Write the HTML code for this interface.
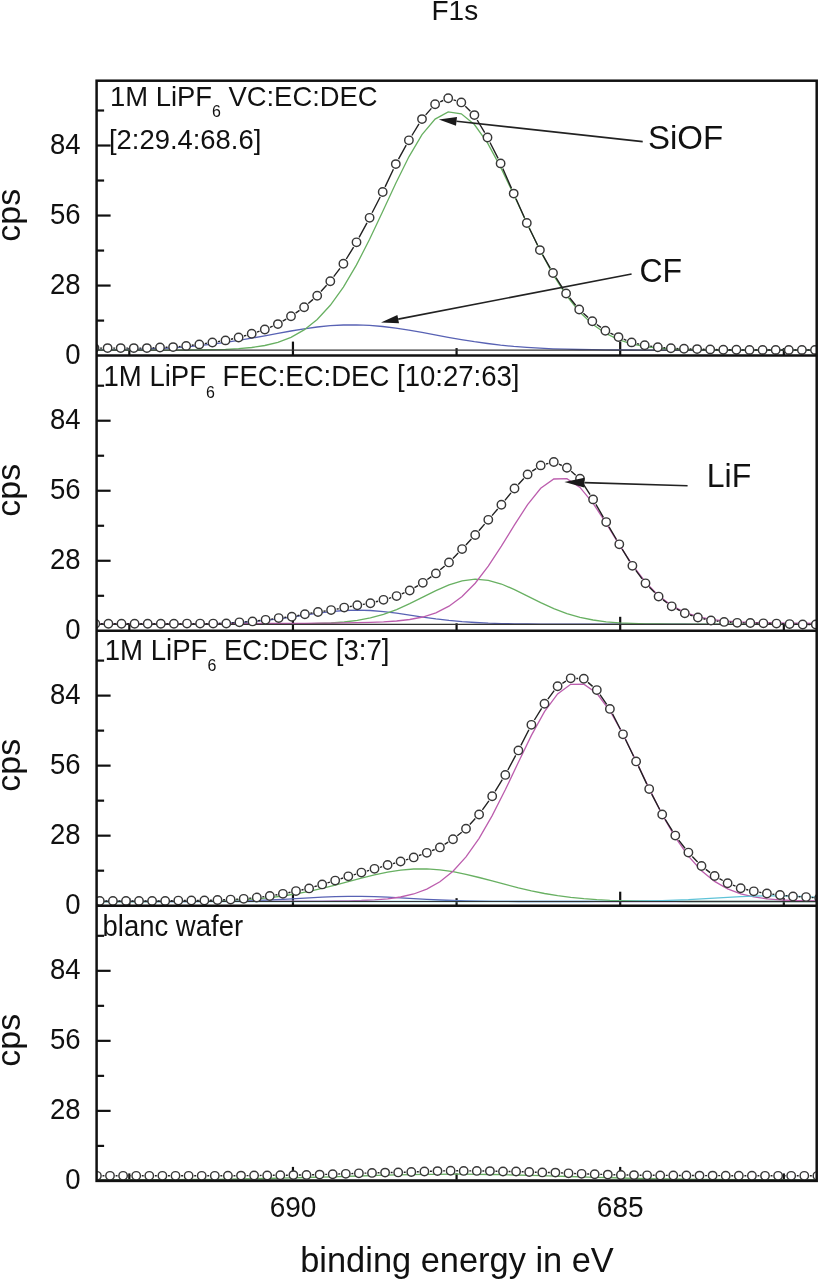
<!DOCTYPE html>
<html><head><meta charset="utf-8"><style>
html,body{margin:0;padding:0;background:#fff;overflow:hidden;}
svg{display:block;}
.t{font-family:"Liberation Sans",Arial,sans-serif;fill:#111;}
.k{stroke:#111;stroke-width:2.2;}
.f{stroke:#111;stroke-width:2.5;}
circle{fill:#fff;stroke:#383838;stroke-width:1.45;}
</style></head><body>
<svg width="819" height="1280" viewBox="0 0 819 1280">
<defs>
<clipPath id="c0"><rect x="96.6" y="80.7" width="720.1" height="274.9"/></clipPath>
<clipPath id="c1"><rect x="96.6" y="355.6" width="720.1" height="275.2"/></clipPath>
<clipPath id="c2"><rect x="96.6" y="630.8" width="720.1" height="274.9"/></clipPath>
<clipPath id="c3"><rect x="96.6" y="905.7" width="720.1" height="275.2"/></clipPath>
</defs>
<rect width="819" height="1280" fill="#fff"/>
<text transform="translate(454.8,20.0) scale(1,1.02)" font-size="28" text-anchor="middle" class="t">F1s</text>
<line x1="96.6" y1="320.59" x2="104.1" y2="320.59" class="k"/>
<line x1="96.6" y1="285.57" x2="110.6" y2="285.57" class="k"/>
<line x1="96.6" y1="250.56" x2="104.1" y2="250.56" class="k"/>
<line x1="96.6" y1="215.54" x2="110.6" y2="215.54" class="k"/>
<line x1="96.6" y1="180.53" x2="104.1" y2="180.53" class="k"/>
<line x1="96.6" y1="145.52" x2="110.6" y2="145.52" class="k"/>
<line x1="96.6" y1="110.50" x2="104.1" y2="110.50" class="k"/>
<text transform="translate(80.5,363.6) scale(1,1.05)" font-size="27.5" text-anchor="end" class="t">0</text>
<text transform="translate(80.5,293.6) scale(1,1.05)" font-size="27.5" text-anchor="end" class="t">28</text>
<text transform="translate(80.5,223.5) scale(1,1.05)" font-size="27.5" text-anchor="end" class="t">56</text>
<text transform="translate(80.5,153.5) scale(1,1.05)" font-size="27.5" text-anchor="end" class="t">84</text>
<line x1="129.32" y1="355.6" x2="129.32" y2="348.1" class="k"/>
<line x1="292.95" y1="355.6" x2="292.95" y2="341.6" class="k"/>
<line x1="456.58" y1="355.6" x2="456.58" y2="348.1" class="k"/>
<line x1="620.20" y1="355.6" x2="620.20" y2="341.6" class="k"/>
<line x1="783.83" y1="355.6" x2="783.83" y2="348.1" class="k"/>
<text transform="translate(20,215.2) rotate(-90)" font-size="34" text-anchor="middle" class="t">cps</text>
<line x1="96.6" y1="595.79" x2="104.1" y2="595.79" class="k"/>
<line x1="96.6" y1="560.77" x2="110.6" y2="560.77" class="k"/>
<line x1="96.6" y1="525.76" x2="104.1" y2="525.76" class="k"/>
<line x1="96.6" y1="490.74" x2="110.6" y2="490.74" class="k"/>
<line x1="96.6" y1="455.73" x2="104.1" y2="455.73" class="k"/>
<line x1="96.6" y1="420.72" x2="110.6" y2="420.72" class="k"/>
<line x1="96.6" y1="385.70" x2="104.1" y2="385.70" class="k"/>
<text transform="translate(80.5,638.8) scale(1,1.05)" font-size="27.5" text-anchor="end" class="t">0</text>
<text transform="translate(80.5,568.8) scale(1,1.05)" font-size="27.5" text-anchor="end" class="t">28</text>
<text transform="translate(80.5,498.7) scale(1,1.05)" font-size="27.5" text-anchor="end" class="t">56</text>
<text transform="translate(80.5,428.7) scale(1,1.05)" font-size="27.5" text-anchor="end" class="t">84</text>
<line x1="129.32" y1="630.8" x2="129.32" y2="623.3" class="k"/>
<line x1="292.95" y1="630.8" x2="292.95" y2="616.8" class="k"/>
<line x1="456.58" y1="630.8" x2="456.58" y2="623.3" class="k"/>
<line x1="620.20" y1="630.8" x2="620.20" y2="616.8" class="k"/>
<line x1="783.83" y1="630.8" x2="783.83" y2="623.3" class="k"/>
<text transform="translate(20,490.2) rotate(-90)" font-size="34" text-anchor="middle" class="t">cps</text>
<line x1="96.6" y1="870.69" x2="104.1" y2="870.69" class="k"/>
<line x1="96.6" y1="835.67" x2="110.6" y2="835.67" class="k"/>
<line x1="96.6" y1="800.66" x2="104.1" y2="800.66" class="k"/>
<line x1="96.6" y1="765.64" x2="110.6" y2="765.64" class="k"/>
<line x1="96.6" y1="730.63" x2="104.1" y2="730.63" class="k"/>
<line x1="96.6" y1="695.62" x2="110.6" y2="695.62" class="k"/>
<line x1="96.6" y1="660.60" x2="104.1" y2="660.60" class="k"/>
<text transform="translate(80.5,913.7) scale(1,1.05)" font-size="27.5" text-anchor="end" class="t">0</text>
<text transform="translate(80.5,843.7) scale(1,1.05)" font-size="27.5" text-anchor="end" class="t">28</text>
<text transform="translate(80.5,773.6) scale(1,1.05)" font-size="27.5" text-anchor="end" class="t">56</text>
<text transform="translate(80.5,703.6) scale(1,1.05)" font-size="27.5" text-anchor="end" class="t">84</text>
<line x1="129.32" y1="905.7" x2="129.32" y2="898.2" class="k"/>
<line x1="292.95" y1="905.7" x2="292.95" y2="891.7" class="k"/>
<line x1="456.58" y1="905.7" x2="456.58" y2="898.2" class="k"/>
<line x1="620.20" y1="905.7" x2="620.20" y2="891.7" class="k"/>
<line x1="783.83" y1="905.7" x2="783.83" y2="898.2" class="k"/>
<text transform="translate(20,765.2) rotate(-90)" font-size="34" text-anchor="middle" class="t">cps</text>
<line x1="96.6" y1="1145.89" x2="104.1" y2="1145.89" class="k"/>
<line x1="96.6" y1="1110.87" x2="110.6" y2="1110.87" class="k"/>
<line x1="96.6" y1="1075.86" x2="104.1" y2="1075.86" class="k"/>
<line x1="96.6" y1="1040.84" x2="110.6" y2="1040.84" class="k"/>
<line x1="96.6" y1="1005.83" x2="104.1" y2="1005.83" class="k"/>
<line x1="96.6" y1="970.82" x2="110.6" y2="970.82" class="k"/>
<line x1="96.6" y1="935.80" x2="104.1" y2="935.80" class="k"/>
<text transform="translate(80.5,1188.9) scale(1,1.05)" font-size="27.5" text-anchor="end" class="t">0</text>
<text transform="translate(80.5,1118.9) scale(1,1.05)" font-size="27.5" text-anchor="end" class="t">28</text>
<text transform="translate(80.5,1048.8) scale(1,1.05)" font-size="27.5" text-anchor="end" class="t">56</text>
<text transform="translate(80.5,978.8) scale(1,1.05)" font-size="27.5" text-anchor="end" class="t">84</text>
<line x1="129.32" y1="1180.9" x2="129.32" y2="1173.4" class="k"/>
<line x1="292.95" y1="1180.9" x2="292.95" y2="1166.9" class="k"/>
<line x1="456.58" y1="1180.9" x2="456.58" y2="1173.4" class="k"/>
<line x1="620.20" y1="1180.9" x2="620.20" y2="1166.9" class="k"/>
<line x1="783.83" y1="1180.9" x2="783.83" y2="1173.4" class="k"/>
<text transform="translate(20,1040.3) rotate(-90)" font-size="34" text-anchor="middle" class="t">cps</text>
<g clip-path="url(#c0)">
<path d="M81.4,350.0 L94.5,349.9 L107.6,349.8 L120.7,349.6 L133.8,349.4 L146.9,349.0 L160.0,348.5 L173.1,347.8 L186.2,346.8 L199.3,345.6 L212.4,344.2 L225.5,342.4 L238.6,340.4 L251.7,338.2 L264.8,335.8 L277.9,333.3 L291.0,331.0 L304.1,328.8 L317.2,327.0 L330.3,325.7 L343.4,325.0 L356.5,324.8 L369.6,325.3 L382.7,326.5 L395.8,328.1 L408.9,330.1 L422.0,332.4 L435.1,334.8 L448.2,337.3 L461.3,339.6 L474.4,341.7 L487.5,343.5 L500.6,345.1 L513.7,346.4 L526.8,347.4 L539.9,348.2 L553.0,348.8 L566.1,349.2 L579.2,349.5 L592.3,349.7 L605.4,349.9 L618.5,350.0 L631.6,350.0 L644.7,350.1 L657.8,350.1 L670.9,350.1 L684.0,350.1 L697.1,350.1 L710.2,350.1 L723.3,350.1 L736.4,350.1 L749.5,350.1 L762.6,350.1 L775.7,350.1 L788.8,350.1 L801.9,350.1 L815.0,350.1 L828.1,350.1 L841.2,350.1 L854.3,350.1" fill="none" stroke="#5862b4" stroke-width="1.3"/>
<path d="M81.4,350.1 L94.5,350.1 L107.6,350.1 L120.7,350.1 L133.8,350.1 L146.9,350.1 L160.0,350.1 L173.1,350.1 L186.2,350.0 L199.3,349.9 L212.4,349.7 L225.5,349.4 L238.6,348.7 L251.7,347.5 L264.8,345.5 L277.9,342.3 L291.0,337.3 L304.1,329.9 L317.2,319.4 L330.3,305.3 L343.4,287.1 L356.5,264.9 L369.6,239.3 L382.7,211.5 L395.8,183.2 L408.9,156.8 L422.0,134.7 L435.1,119.1 L448.2,111.9 L461.3,113.8 L474.4,124.5 L487.5,142.9 L500.6,167.1 L513.7,194.5 L526.8,222.9 L539.9,250.0 L553.0,274.4 L566.1,295.0 L579.2,311.5 L592.3,324.1 L605.4,333.2 L618.5,339.6 L631.6,343.8 L644.7,346.5 L657.8,348.1 L670.9,349.0 L684.0,349.5 L697.1,349.8 L710.2,350.0 L723.3,350.0 L736.4,350.1 L749.5,350.1 L762.6,350.1 L775.7,350.1 L788.8,350.1 L801.9,350.1 L815.0,350.1 L828.1,350.1 L841.2,350.1 L854.3,350.1" fill="none" stroke="#68b062" stroke-width="1.3"/>
<line x1="96.6" y1="350.1" x2="816.7" y2="350.1" stroke="#333" stroke-width="1.2"/>
<path d="M100.1,348.1L102.0,348.1M113.2,348.1L115.1,348.1M126.3,348.1L128.2,348.1M139.4,348.1L141.3,348.1M152.5,347.9L154.4,347.8M165.6,347.3L167.5,347.3M178.7,346.6L180.6,346.4M191.8,345.3L193.7,345.0M204.8,343.6L206.9,343.3M217.9,341.6L220.0,341.3M231.0,339.2L233.1,338.7M244.0,336.0L246.3,335.3M257.0,332.1L259.5,331.2M270.0,327.3L272.7,326.2M282.7,321.2L286.2,319.1M295.6,313.1L299.5,310.4M308.3,303.5L313.0,299.4M320.9,291.5L326.6,285.3M333.7,276.7L340.0,268.3M346.3,259.0L353.6,247.1M359.1,237.4L367.0,222.8M372.1,212.8L380.2,197.0M385.1,186.9L393.4,169.2M398.5,159.2L406.2,145.2M411.9,135.5L419.0,123.9M425.7,114.9L431.4,108.4M440.2,101.9L443.1,100.5M453.5,99.9L456.0,100.7M465.3,106.3L470.4,111.2M477.2,120.0L484.7,132.7M490.0,142.5L498.1,158.4M502.8,168.5L511.5,188.4M516.0,198.7L524.5,217.8M529.2,228.0L537.5,245.0M542.7,254.9L550.2,268.1M556.0,277.7L563.1,288.8M569.6,297.8L575.7,305.2M583.4,313.2L588.1,317.5M596.8,324.5L600.9,327.4M610.4,333.2L613.5,334.6M623.7,339.2L626.4,340.3M637.1,343.6L639.2,344.1M650.2,346.1L652.3,346.4M663.4,347.7L665.3,347.8M676.5,348.5L678.4,348.6M689.6,348.9L691.5,349.0M702.7,349.3L704.6,349.3M715.8,349.5L717.7,349.6M728.9,349.8L730.8,349.8M742.0,349.9L743.9,349.9M755.1,349.9L757.0,349.9M768.2,349.9L770.1,349.9M781.3,349.9L783.2,349.9M794.4,349.9L796.3,349.9M807.5,349.9L809.4,349.9" fill="none" stroke="#222" stroke-width="1.4"/>
<circle cx="94.5" cy="348.1" r="4.2"/>
<circle cx="107.6" cy="348.1" r="4.2"/>
<circle cx="120.7" cy="348.1" r="4.2"/>
<circle cx="133.8" cy="348.1" r="4.2"/>
<circle cx="146.9" cy="348.1" r="4.2"/>
<circle cx="160.0" cy="347.5" r="4.2"/>
<circle cx="173.1" cy="347.1" r="4.2"/>
<circle cx="186.2" cy="345.9" r="4.2"/>
<circle cx="199.3" cy="344.4" r="4.2"/>
<circle cx="212.4" cy="342.5" r="4.2"/>
<circle cx="225.5" cy="340.4" r="4.2"/>
<circle cx="238.6" cy="337.5" r="4.2"/>
<circle cx="251.7" cy="333.8" r="4.2"/>
<circle cx="264.8" cy="329.5" r="4.2"/>
<circle cx="277.9" cy="324.1" r="4.2"/>
<circle cx="291.0" cy="316.3" r="4.2"/>
<circle cx="304.1" cy="307.2" r="4.2"/>
<circle cx="317.2" cy="295.7" r="4.2"/>
<circle cx="330.3" cy="281.2" r="4.2"/>
<circle cx="343.4" cy="263.8" r="4.2"/>
<circle cx="356.5" cy="242.3" r="4.2"/>
<circle cx="369.6" cy="217.8" r="4.2"/>
<circle cx="382.7" cy="192.0" r="4.2"/>
<circle cx="395.8" cy="164.1" r="4.2"/>
<circle cx="408.9" cy="140.3" r="4.2"/>
<circle cx="422.0" cy="119.1" r="4.2"/>
<circle cx="435.1" cy="104.2" r="4.2"/>
<circle cx="448.2" cy="98.2" r="4.2"/>
<circle cx="461.3" cy="102.4" r="4.2"/>
<circle cx="474.4" cy="115.1" r="4.2"/>
<circle cx="487.5" cy="137.5" r="4.2"/>
<circle cx="500.6" cy="163.4" r="4.2"/>
<circle cx="513.7" cy="193.6" r="4.2"/>
<circle cx="526.8" cy="223.0" r="4.2"/>
<circle cx="539.9" cy="250.1" r="4.2"/>
<circle cx="553.0" cy="273.0" r="4.2"/>
<circle cx="566.1" cy="293.5" r="4.2"/>
<circle cx="579.2" cy="309.5" r="4.2"/>
<circle cx="592.3" cy="321.2" r="4.2"/>
<circle cx="605.4" cy="330.7" r="4.2"/>
<circle cx="618.5" cy="337.1" r="4.2"/>
<circle cx="631.6" cy="342.4" r="4.2"/>
<circle cx="644.7" cy="345.3" r="4.2"/>
<circle cx="657.8" cy="347.2" r="4.2"/>
<circle cx="670.9" cy="348.2" r="4.2"/>
<circle cx="684.0" cy="348.8" r="4.2"/>
<circle cx="697.1" cy="349.1" r="4.2"/>
<circle cx="710.2" cy="349.4" r="4.2"/>
<circle cx="723.3" cy="349.7" r="4.2"/>
<circle cx="736.4" cy="349.8" r="4.2"/>
<circle cx="749.5" cy="349.9" r="4.2"/>
<circle cx="762.6" cy="349.9" r="4.2"/>
<circle cx="775.7" cy="349.9" r="4.2"/>
<circle cx="788.8" cy="349.9" r="4.2"/>
<circle cx="801.9" cy="349.9" r="4.2"/>
<circle cx="815.0" cy="349.9" r="4.2"/>
</g>
<g clip-path="url(#c1)">
<path d="M82.2,624.2 L95.3,624.2 L108.4,624.2 L121.5,624.2 L134.6,624.2 L147.7,624.2 L160.8,624.1 L173.9,624.1 L187.0,624.0 L200.1,623.8 L213.2,623.6 L226.3,623.2 L239.4,622.5 L252.5,621.6 L265.6,620.4 L278.7,618.9 L291.8,617.1 L304.9,615.1 L318.0,613.2 L331.1,611.6 L344.2,610.5 L357.3,610.1 L370.4,610.5 L383.5,611.6 L396.6,613.2 L409.7,615.1 L422.8,617.1 L435.9,618.9 L449.0,620.4 L462.1,621.6 L475.2,622.5 L488.3,623.2 L501.4,623.6 L514.5,623.8 L527.6,624.0 L540.7,624.1 L553.8,624.1 L566.9,624.2 L580.0,624.2 L593.1,624.2 L606.2,624.2 L619.3,624.2 L632.4,624.2 L645.5,624.2 L658.6,624.2 L671.7,624.2 L684.8,624.2 L697.9,624.3 L711.0,624.3 L724.1,624.3 L737.2,624.3 L750.3,624.3 L763.4,624.3 L776.5,624.3 L789.6,624.3 L802.7,624.3 L815.8,624.3 L828.9,624.3 L842.0,624.3 L855.1,624.3" fill="none" stroke="#5862b4" stroke-width="1.3"/>
<path d="M82.2,624.3 L95.3,624.2 L108.4,624.2 L121.5,624.2 L134.6,624.2 L147.7,624.2 L160.8,624.2 L173.9,624.2 L187.0,624.2 L200.1,624.2 L213.2,624.2 L226.3,624.2 L239.4,624.2 L252.5,624.1 L265.6,624.1 L278.7,624.1 L291.8,624.0 L304.9,623.8 L318.0,623.5 L331.1,623.0 L344.2,622.0 L357.3,620.4 L370.4,617.9 L383.5,614.3 L396.6,609.6 L409.7,603.7 L422.8,597.2 L435.9,590.6 L449.0,584.9 L462.1,580.8 L475.2,579.2 L488.3,580.4 L501.4,584.0 L514.5,589.6 L527.6,596.1 L540.7,602.7 L553.8,608.7 L566.9,613.6 L580.0,617.4 L593.1,620.0 L606.2,621.8 L619.3,622.8 L632.4,623.4 L645.5,623.8 L658.6,624.0 L671.7,624.1 L684.8,624.1 L697.9,624.1 L711.0,624.2 L724.1,624.2 L737.2,624.2 L750.3,624.2 L763.4,624.2 L776.5,624.2 L789.6,624.2 L802.7,624.2 L815.8,624.2 L828.9,624.2 L842.0,624.2 L855.1,624.2" fill="none" stroke="#68b062" stroke-width="1.3"/>
<path d="M82.2,624.0 L95.3,624.0 L108.4,624.0 L121.5,624.0 L134.6,623.9 L147.7,623.9 L160.8,623.9 L173.9,623.9 L187.0,623.8 L200.1,623.8 L213.2,623.8 L226.3,623.7 L239.4,623.7 L252.5,623.6 L265.6,623.5 L278.7,623.5 L291.8,623.4 L304.9,623.3 L318.0,623.2 L331.1,623.1 L344.2,622.9 L357.3,622.7 L370.4,622.4 L383.5,621.9 L396.6,621.0 L409.7,619.5 L422.8,617.0 L435.9,612.8 L449.0,606.2 L462.1,596.5 L475.2,583.2 L488.3,566.2 L501.4,546.2 L514.5,524.9 L527.6,504.6 L540.7,488.3 L553.8,479.0 L566.9,478.7 L580.0,487.4 L593.1,503.3 L606.2,523.4 L619.3,544.8 L632.4,564.9 L645.5,582.1 L658.6,595.7 L671.7,605.6 L684.8,612.4 L697.9,616.7 L711.0,619.4 L724.1,620.9 L737.2,621.8 L750.3,622.4 L763.4,622.7 L776.5,622.9 L789.6,623.1 L802.7,623.2 L815.8,623.3 L828.9,623.4 L842.0,623.5 L855.1,623.5" fill="none" stroke="#bc5eae" stroke-width="1.3"/>
<line x1="96.6" y1="624.3" x2="816.7" y2="624.3" stroke="#333" stroke-width="1.2"/>
<path d="M100.9,623.7L102.8,623.7M114.0,623.7L115.9,623.7M127.1,623.7L129.0,623.7M140.2,623.7L142.1,623.7M153.3,623.7L155.2,623.7M166.4,623.7L168.3,623.7M179.5,623.7L181.4,623.6M192.6,623.6L194.5,623.6M205.7,623.6L207.6,623.6M218.8,623.5L220.7,623.5M231.9,623.0L233.8,622.8M245.0,621.9L246.9,621.8M258.1,620.7L260.0,620.5M271.2,619.1L273.1,618.9M284.3,617.5L286.2,617.3M297.3,615.7L299.4,615.3M310.4,613.3L312.5,612.9M323.5,611.2L325.6,610.9M336.6,609.1L338.7,608.7M349.7,606.6L351.8,606.2M362.8,604.4L364.9,604.1M375.8,601.8L378.1,601.2M388.9,598.3L391.2,597.6M401.8,593.9L404.5,592.7M414.5,587.7L418.0,585.6M427.3,579.5L431.4,576.6M440.2,569.8L444.7,566.0M452.9,558.4L458.2,553.1M465.9,545.0L471.4,539.1M478.9,530.8L484.6,524.1M492.0,515.6L497.7,509.0M504.9,500.4L511.0,492.9M518.3,484.4L523.8,478.5M532.2,471.2L536.1,468.6M546.1,464.0L548.4,463.4M558.9,464.2L561.8,465.5M571.2,471.3L575.7,475.2M583.0,483.6L590.1,494.7M595.9,504.3L603.4,517.3M609.0,526.9L616.5,539.5M622.2,549.1L629.5,561.1M635.8,570.3L642.1,578.8M649.4,587.3L654.7,592.6M663.1,599.9L667.2,603.0M676.7,608.9L679.8,610.6M690.1,615.0L692.6,615.8M703.4,618.8L705.5,619.2M716.6,621.1L718.5,621.3M729.7,622.3L731.6,622.4M742.8,622.9L744.7,622.9M755.9,623.1L757.8,623.2M769.0,623.4L770.9,623.5M782.1,623.8L784.0,623.9M795.2,624.3L797.1,624.3M808.3,624.5L810.2,624.5" fill="none" stroke="#222" stroke-width="1.4"/>
<circle cx="95.3" cy="623.7" r="4.2"/>
<circle cx="108.4" cy="623.7" r="4.2"/>
<circle cx="121.5" cy="623.7" r="4.2"/>
<circle cx="134.6" cy="623.7" r="4.2"/>
<circle cx="147.7" cy="623.7" r="4.2"/>
<circle cx="160.8" cy="623.7" r="4.2"/>
<circle cx="173.9" cy="623.7" r="4.2"/>
<circle cx="187.0" cy="623.6" r="4.2"/>
<circle cx="200.1" cy="623.6" r="4.2"/>
<circle cx="213.2" cy="623.6" r="4.2"/>
<circle cx="226.3" cy="623.5" r="4.2"/>
<circle cx="239.4" cy="622.3" r="4.2"/>
<circle cx="252.5" cy="621.4" r="4.2"/>
<circle cx="265.6" cy="619.8" r="4.2"/>
<circle cx="278.7" cy="618.1" r="4.2"/>
<circle cx="291.8" cy="616.7" r="4.2"/>
<circle cx="304.9" cy="614.2" r="4.2"/>
<circle cx="318.0" cy="612.0" r="4.2"/>
<circle cx="331.1" cy="610.1" r="4.2"/>
<circle cx="344.2" cy="607.6" r="4.2"/>
<circle cx="357.3" cy="605.2" r="4.2"/>
<circle cx="370.4" cy="603.2" r="4.2"/>
<circle cx="383.5" cy="599.8" r="4.2"/>
<circle cx="396.6" cy="596.1" r="4.2"/>
<circle cx="409.7" cy="590.5" r="4.2"/>
<circle cx="422.8" cy="582.8" r="4.2"/>
<circle cx="435.9" cy="573.4" r="4.2"/>
<circle cx="449.0" cy="562.4" r="4.2"/>
<circle cx="462.1" cy="549.1" r="4.2"/>
<circle cx="475.2" cy="535.0" r="4.2"/>
<circle cx="488.3" cy="519.8" r="4.2"/>
<circle cx="501.4" cy="504.8" r="4.2"/>
<circle cx="514.5" cy="488.5" r="4.2"/>
<circle cx="527.6" cy="474.4" r="4.2"/>
<circle cx="540.7" cy="465.4" r="4.2"/>
<circle cx="553.8" cy="462.0" r="4.2"/>
<circle cx="566.9" cy="467.7" r="4.2"/>
<circle cx="580.0" cy="478.8" r="4.2"/>
<circle cx="593.1" cy="499.4" r="4.2"/>
<circle cx="606.2" cy="522.1" r="4.2"/>
<circle cx="619.3" cy="544.3" r="4.2"/>
<circle cx="632.4" cy="565.8" r="4.2"/>
<circle cx="645.5" cy="583.3" r="4.2"/>
<circle cx="658.6" cy="596.6" r="4.2"/>
<circle cx="671.7" cy="606.3" r="4.2"/>
<circle cx="684.8" cy="613.2" r="4.2"/>
<circle cx="697.9" cy="617.5" r="4.2"/>
<circle cx="711.0" cy="620.5" r="4.2"/>
<circle cx="724.1" cy="621.9" r="4.2"/>
<circle cx="737.2" cy="622.8" r="4.2"/>
<circle cx="750.3" cy="623.0" r="4.2"/>
<circle cx="763.4" cy="623.3" r="4.2"/>
<circle cx="776.5" cy="623.6" r="4.2"/>
<circle cx="789.6" cy="624.1" r="4.2"/>
<circle cx="802.7" cy="624.5" r="4.2"/>
<circle cx="815.8" cy="624.5" r="4.2"/>
</g>
<g clip-path="url(#c2)">
<path d="M73.6,901.5 L86.7,901.5 L99.8,901.5 L112.9,901.5 L126.0,901.5 L139.0,901.5 L152.1,901.5 L165.2,901.5 L178.3,901.5 L191.4,901.5 L204.4,901.4 L217.5,901.3 L230.6,901.2 L243.7,900.9 L256.8,900.5 L269.8,900.0 L282.9,899.4 L296.0,898.7 L309.1,897.9 L322.2,897.2 L335.2,896.6 L348.3,896.3 L361.4,896.3 L374.5,896.6 L387.6,897.2 L400.6,897.9 L413.7,898.7 L426.8,899.4 L439.9,900.0 L453.0,900.5 L466.0,900.9 L479.1,901.1 L492.2,901.3 L505.3,901.4 L518.4,901.5 L531.4,901.5 L544.5,901.5 L557.6,901.5 L570.7,901.5 L583.8,901.5 L596.8,901.5 L609.9,901.5 L623.0,901.5 L636.1,901.5 L649.2,901.5 L662.2,901.5 L675.3,901.5 L688.4,901.5 L701.5,901.5 L714.6,901.5 L727.6,901.5 L740.7,901.5 L753.8,901.5 L766.9,901.5 L780.0,901.5 L793.0,901.5 L806.1,901.5 L819.2,901.5 L832.3,901.5 L845.4,901.5" fill="none" stroke="#5862b4" stroke-width="1.3"/>
<path d="M73.6,901.5 L86.7,901.5 L99.8,901.5 L112.9,901.5 L126.0,901.5 L139.0,901.5 L152.1,901.5 L165.2,901.4 L178.3,901.4 L191.4,901.3 L204.4,901.1 L217.5,900.8 L230.6,900.4 L243.7,899.7 L256.8,898.8 L269.8,897.6 L282.9,896.0 L296.0,893.9 L309.1,891.3 L322.2,888.4 L335.2,885.1 L348.3,881.6 L361.4,878.1 L374.5,874.8 L387.6,872.1 L400.6,870.1 L413.7,869.0 L426.8,868.9 L439.9,869.8 L453.0,871.7 L466.0,874.3 L479.1,877.5 L492.2,880.9 L505.3,884.4 L518.4,887.8 L531.4,890.8 L544.5,893.5 L557.6,895.6 L570.7,897.3 L583.8,898.6 L596.8,899.6 L609.9,900.3 L623.0,900.7 L636.1,901.0 L649.2,901.2 L662.2,901.3 L675.3,901.4 L688.4,901.5 L701.5,901.5 L714.6,901.5 L727.6,901.5 L740.7,901.5 L753.8,901.5 L766.9,901.5 L780.0,901.5 L793.0,901.5 L806.1,901.5 L819.2,901.5 L832.3,901.5 L845.4,901.5" fill="none" stroke="#68b062" stroke-width="1.3"/>
<path d="M73.6,901.4 L86.7,901.4 L99.8,901.4 L112.9,901.4 L126.0,901.4 L139.0,901.4 L152.1,901.4 L165.2,901.4 L178.3,901.4 L191.4,901.3 L204.4,901.3 L217.5,901.3 L230.6,901.3 L243.7,901.3 L256.8,901.3 L269.8,901.3 L282.9,901.2 L296.0,901.2 L309.1,901.2 L322.2,901.1 L335.2,901.0 L348.3,900.8 L361.4,900.5 L374.5,899.9 L387.6,898.9 L400.6,897.0 L413.7,894.0 L426.8,889.1 L439.9,881.8 L453.0,871.2 L466.0,856.9 L479.1,838.3 L492.2,815.6 L505.3,789.8 L518.4,762.3 L531.4,735.4 L544.5,711.7 L557.6,693.9 L570.7,684.3 L583.8,684.1 L596.8,693.3 L609.9,710.8 L623.0,734.3 L636.1,761.1 L649.2,788.6 L662.2,814.6 L675.3,837.4 L688.4,856.1 L701.5,870.7 L714.6,881.4 L727.6,888.9 L740.7,893.8 L753.8,896.9 L766.9,898.8 L780.0,899.9 L793.0,900.5 L806.1,900.8 L819.2,901.0 L832.3,901.1 L845.4,901.2" fill="none" stroke="#bc5eae" stroke-width="1.3"/>
<path d="M73.6,901.5 L86.7,901.5 L99.8,901.5 L112.9,901.5 L126.0,901.5 L139.0,901.5 L152.1,901.5 L165.2,901.5 L178.3,901.5 L191.4,901.5 L204.4,901.5 L217.5,901.5 L230.6,901.5 L243.7,901.5 L256.8,901.5 L269.8,901.5 L282.9,901.5 L296.0,901.5 L309.1,901.5 L322.2,901.5 L335.2,901.5 L348.3,901.5 L361.4,901.5 L374.5,901.5 L387.6,901.5 L400.6,901.5 L413.7,901.5 L426.8,901.5 L439.9,901.5 L453.0,901.5 L466.0,901.5 L479.1,901.5 L492.2,901.5 L505.3,901.5 L518.4,901.5 L531.4,901.5 L544.5,901.5 L557.6,901.5 L570.7,901.5 L583.8,901.5 L596.8,901.4 L609.9,901.4 L623.0,901.3 L636.1,901.2 L649.2,900.9 L662.2,900.6 L675.3,900.1 L688.4,899.6 L701.5,898.8 L714.6,898.1 L727.6,897.3 L740.7,896.6 L753.8,896.1 L766.9,895.8 L780.0,895.9 L793.0,896.2 L806.1,896.7 L819.2,897.5 L832.3,898.2 L845.4,899.0" fill="none" stroke="#5fc3d8" stroke-width="1.3"/>
<line x1="96.6" y1="901.5" x2="816.7" y2="901.5" stroke="#333" stroke-width="1.2"/>
<path d="M92.3,901.0L94.2,901.0M105.4,901.0L107.3,901.0M118.5,901.0L120.4,901.0M131.6,901.0L133.4,901.0M144.6,901.0L146.5,901.0M157.7,901.0L159.6,901.0M170.8,900.8L172.7,900.8M183.9,900.5L185.8,900.5M197.0,900.4L198.8,900.4M210.0,900.2L211.9,900.2M223.1,899.8L225.0,899.8M236.2,899.2L238.1,899.1M249.3,898.2L251.2,898.1M262.3,896.9L264.3,896.6M275.4,895.0L277.4,894.7M288.4,892.7L290.5,892.2M301.5,890.0L303.6,889.5M314.4,886.7L316.8,886.0M327.5,882.8L329.9,882.1M340.6,878.8L343.0,878.0M353.7,874.8L356.0,874.1M366.8,871.1L369.1,870.4M379.9,867.3L382.2,866.6M393.0,863.6L395.2,863.0M406.0,859.9L408.4,859.1M419.0,855.5L421.5,854.6M432.0,850.6L434.7,849.5M444.6,844.4L448.2,842.2M457.3,835.7L461.7,832.2M469.8,824.5L475.3,818.6M482.4,809.9L488.9,800.8M495.1,791.4L502.3,779.7M507.9,770.0L515.7,755.3M520.9,745.4L528.9,729.8M534.4,720.0L541.6,708.4M547.9,699.2L554.2,690.6M562.4,683.3L565.9,681.2M576.3,678.5L578.2,678.5M588.0,682.4L592.6,686.4M600.0,694.7L606.7,704.3M612.5,713.8L620.4,729.3M625.4,739.3L633.6,756.3M638.5,766.4L646.8,784.1M651.7,794.1L659.7,809.5M665.2,819.3L672.4,830.9M678.7,840.1L685.0,848.2M692.3,856.6L697.6,862.0M705.9,869.4L710.1,872.6M719.5,878.7L722.7,880.5M732.9,885.2L735.5,886.2M746.2,889.5L748.3,890.0M759.3,892.2L761.4,892.6M772.4,894.2L774.4,894.4M785.5,895.6L787.5,895.8M798.6,896.7L800.5,896.8M811.7,897.5L813.6,897.6" fill="none" stroke="#222" stroke-width="1.4"/>
<circle cx="86.7" cy="901.0" r="4.2"/>
<circle cx="99.8" cy="901.0" r="4.2"/>
<circle cx="112.9" cy="901.0" r="4.2"/>
<circle cx="126.0" cy="901.0" r="4.2"/>
<circle cx="139.0" cy="901.0" r="4.2"/>
<circle cx="152.1" cy="901.0" r="4.2"/>
<circle cx="165.2" cy="901.0" r="4.2"/>
<circle cx="178.3" cy="900.6" r="4.2"/>
<circle cx="191.4" cy="900.4" r="4.2"/>
<circle cx="204.4" cy="900.4" r="4.2"/>
<circle cx="217.5" cy="900.0" r="4.2"/>
<circle cx="230.6" cy="899.6" r="4.2"/>
<circle cx="243.7" cy="898.8" r="4.2"/>
<circle cx="256.8" cy="897.5" r="4.2"/>
<circle cx="269.8" cy="896.0" r="4.2"/>
<circle cx="282.9" cy="893.8" r="4.2"/>
<circle cx="296.0" cy="891.1" r="4.2"/>
<circle cx="309.1" cy="888.4" r="4.2"/>
<circle cx="322.2" cy="884.4" r="4.2"/>
<circle cx="335.2" cy="880.6" r="4.2"/>
<circle cx="348.3" cy="876.3" r="4.2"/>
<circle cx="361.4" cy="872.6" r="4.2"/>
<circle cx="374.5" cy="868.8" r="4.2"/>
<circle cx="387.6" cy="865.0" r="4.2"/>
<circle cx="400.6" cy="861.5" r="4.2"/>
<circle cx="413.7" cy="857.4" r="4.2"/>
<circle cx="426.8" cy="852.8" r="4.2"/>
<circle cx="439.9" cy="847.4" r="4.2"/>
<circle cx="453.0" cy="839.2" r="4.2"/>
<circle cx="466.0" cy="828.7" r="4.2"/>
<circle cx="479.1" cy="814.5" r="4.2"/>
<circle cx="492.2" cy="796.2" r="4.2"/>
<circle cx="505.3" cy="774.9" r="4.2"/>
<circle cx="518.4" cy="750.4" r="4.2"/>
<circle cx="531.4" cy="724.8" r="4.2"/>
<circle cx="544.5" cy="703.7" r="4.2"/>
<circle cx="557.6" cy="686.2" r="4.2"/>
<circle cx="570.7" cy="678.3" r="4.2"/>
<circle cx="583.8" cy="678.7" r="4.2"/>
<circle cx="596.8" cy="690.1" r="4.2"/>
<circle cx="609.9" cy="708.9" r="4.2"/>
<circle cx="623.0" cy="734.3" r="4.2"/>
<circle cx="636.1" cy="761.4" r="4.2"/>
<circle cx="649.2" cy="789.1" r="4.2"/>
<circle cx="662.2" cy="814.5" r="4.2"/>
<circle cx="675.3" cy="835.6" r="4.2"/>
<circle cx="688.4" cy="852.6" r="4.2"/>
<circle cx="701.5" cy="866.0" r="4.2"/>
<circle cx="714.6" cy="876.0" r="4.2"/>
<circle cx="727.6" cy="883.2" r="4.2"/>
<circle cx="740.7" cy="888.2" r="4.2"/>
<circle cx="753.8" cy="891.3" r="4.2"/>
<circle cx="766.9" cy="893.5" r="4.2"/>
<circle cx="780.0" cy="895.0" r="4.2"/>
<circle cx="793.0" cy="896.4" r="4.2"/>
<circle cx="806.1" cy="897.1" r="4.2"/>
<circle cx="819.2" cy="898.0" r="4.2"/>
</g>
<g clip-path="url(#c3)">
<path d="M83.8,1179.8 L96.9,1179.8 L110.0,1179.8 L123.1,1179.7 L136.2,1179.7 L149.3,1179.7 L162.4,1179.6 L175.5,1179.6 L188.6,1179.5 L201.7,1179.4 L214.8,1179.3 L227.9,1179.1 L241.0,1179.0 L254.1,1178.7 L267.2,1178.5 L280.3,1178.2 L293.4,1177.9 L306.5,1177.5 L319.6,1177.2 L332.7,1176.8 L345.8,1176.4 L358.9,1176.0 L372.0,1175.6 L385.1,1175.2 L398.2,1174.9 L411.3,1174.6 L424.4,1174.4 L437.5,1174.3 L450.6,1174.2 L463.7,1174.2 L476.8,1174.3 L489.9,1174.5 L503.0,1174.7 L516.1,1175.0 L529.2,1175.3 L542.3,1175.7 L555.4,1176.1 L568.5,1176.5 L581.6,1176.9 L594.7,1177.3 L607.8,1177.7 L620.9,1178.0 L634.0,1178.3 L647.1,1178.6 L660.2,1178.8 L673.3,1179.0 L686.4,1179.2 L699.5,1179.3 L712.6,1179.4 L725.7,1179.5 L738.8,1179.6 L751.9,1179.7 L765.0,1179.7 L778.1,1179.7 L791.2,1179.7 L804.3,1179.8 L817.4,1179.8 L830.5,1179.8 L843.6,1179.8 L856.7,1179.8" fill="none" stroke="#68b062" stroke-width="1.3"/>
<line x1="96.6" y1="1179.8" x2="816.7" y2="1179.8" stroke="#333" stroke-width="1.2"/>
<path d="M102.5,1175.8L104.4,1175.8M115.6,1175.8L117.5,1175.8M128.7,1175.8L130.6,1175.8M141.8,1175.8L143.7,1175.8M154.9,1175.8L156.8,1175.8M168.0,1175.8L169.9,1175.8M181.1,1175.8L183.0,1175.8M194.2,1175.8L196.1,1175.8M207.3,1175.8L209.2,1175.8M220.4,1175.8L222.3,1175.7M233.5,1175.7L235.4,1175.7M246.6,1175.6L248.5,1175.6M259.7,1175.5L261.6,1175.4M272.8,1175.3L274.7,1175.3M285.9,1175.2L287.8,1175.2M299.0,1175.0L300.9,1175.0M312.1,1174.8L314.0,1174.7M325.2,1174.4L327.1,1174.4M338.3,1174.0L340.2,1173.9M351.4,1173.6L353.3,1173.5M364.5,1173.1L366.4,1173.1M377.6,1172.8L379.5,1172.7M390.7,1172.5L392.6,1172.5M403.8,1172.2L405.7,1172.2M416.9,1171.8L418.8,1171.7M430.0,1171.3L431.9,1171.3M443.1,1170.9L445.0,1170.9M456.2,1170.8L458.1,1170.8M469.3,1170.9L471.2,1170.9M482.4,1171.0L484.3,1171.0M495.5,1171.3L497.4,1171.3M508.6,1171.5L510.5,1171.5M521.7,1171.7L523.6,1171.8M534.8,1172.2L536.7,1172.2M547.9,1172.5L549.8,1172.5M561.0,1172.9L562.9,1173.0M574.1,1173.5L576.0,1173.6M587.2,1174.0L589.1,1174.0M600.3,1174.4L602.2,1174.4M613.4,1174.7L615.3,1174.8M626.5,1175.0L628.4,1175.0M639.6,1175.2L641.5,1175.2M652.7,1175.3L654.6,1175.3M665.8,1175.4L667.7,1175.4M678.9,1175.5L680.8,1175.5M692.0,1175.5L693.9,1175.5M705.1,1175.6L707.0,1175.6M718.2,1175.6L720.1,1175.6M731.3,1175.7L733.2,1175.7M744.4,1175.7L746.3,1175.7M757.5,1175.7L759.4,1175.7M770.6,1175.8L772.5,1175.8M783.7,1175.8L785.6,1175.8M796.8,1175.8L798.7,1175.8M809.9,1175.8L811.8,1175.8" fill="none" stroke="#222" stroke-width="1.4"/>
<circle cx="96.9" cy="1175.8" r="4.2"/>
<circle cx="110.0" cy="1175.8" r="4.2"/>
<circle cx="123.1" cy="1175.8" r="4.2"/>
<circle cx="136.2" cy="1175.8" r="4.2"/>
<circle cx="149.3" cy="1175.8" r="4.2"/>
<circle cx="162.4" cy="1175.8" r="4.2"/>
<circle cx="175.5" cy="1175.8" r="4.2"/>
<circle cx="188.6" cy="1175.8" r="4.2"/>
<circle cx="201.7" cy="1175.8" r="4.2"/>
<circle cx="214.8" cy="1175.8" r="4.2"/>
<circle cx="227.9" cy="1175.7" r="4.2"/>
<circle cx="241.0" cy="1175.6" r="4.2"/>
<circle cx="254.1" cy="1175.5" r="4.2"/>
<circle cx="267.2" cy="1175.4" r="4.2"/>
<circle cx="280.3" cy="1175.2" r="4.2"/>
<circle cx="293.4" cy="1175.1" r="4.2"/>
<circle cx="306.5" cy="1174.9" r="4.2"/>
<circle cx="319.6" cy="1174.6" r="4.2"/>
<circle cx="332.7" cy="1174.2" r="4.2"/>
<circle cx="345.8" cy="1173.8" r="4.2"/>
<circle cx="358.9" cy="1173.3" r="4.2"/>
<circle cx="372.0" cy="1172.9" r="4.2"/>
<circle cx="385.1" cy="1172.6" r="4.2"/>
<circle cx="398.2" cy="1172.4" r="4.2"/>
<circle cx="411.3" cy="1172.0" r="4.2"/>
<circle cx="424.4" cy="1171.5" r="4.2"/>
<circle cx="437.5" cy="1171.1" r="4.2"/>
<circle cx="450.6" cy="1170.7" r="4.2"/>
<circle cx="463.7" cy="1170.9" r="4.2"/>
<circle cx="476.8" cy="1170.9" r="4.2"/>
<circle cx="489.9" cy="1171.1" r="4.2"/>
<circle cx="503.0" cy="1171.5" r="4.2"/>
<circle cx="516.1" cy="1171.5" r="4.2"/>
<circle cx="529.2" cy="1172.0" r="4.2"/>
<circle cx="542.3" cy="1172.4" r="4.2"/>
<circle cx="555.4" cy="1172.6" r="4.2"/>
<circle cx="568.5" cy="1173.3" r="4.2"/>
<circle cx="581.6" cy="1173.8" r="4.2"/>
<circle cx="594.7" cy="1174.2" r="4.2"/>
<circle cx="607.8" cy="1174.6" r="4.2"/>
<circle cx="620.9" cy="1174.9" r="4.2"/>
<circle cx="634.0" cy="1175.1" r="4.2"/>
<circle cx="647.1" cy="1175.3" r="4.2"/>
<circle cx="660.2" cy="1175.4" r="4.2"/>
<circle cx="673.3" cy="1175.4" r="4.2"/>
<circle cx="686.4" cy="1175.5" r="4.2"/>
<circle cx="699.5" cy="1175.6" r="4.2"/>
<circle cx="712.6" cy="1175.6" r="4.2"/>
<circle cx="725.7" cy="1175.7" r="4.2"/>
<circle cx="738.8" cy="1175.7" r="4.2"/>
<circle cx="751.9" cy="1175.7" r="4.2"/>
<circle cx="765.0" cy="1175.8" r="4.2"/>
<circle cx="778.1" cy="1175.8" r="4.2"/>
<circle cx="791.2" cy="1175.8" r="4.2"/>
<circle cx="804.3" cy="1175.8" r="4.2"/>
<circle cx="817.4" cy="1175.8" r="4.2"/>
</g>
<line x1="456.5" y1="121.3" x2="642.7" y2="141.6" stroke="#222" stroke-width="1.6"/>
<polygon points="438.8,119.4 456.0,125.7 457.0,117.0" fill="#1a1a1a"/>
<line x1="398.2" y1="319.1" x2="631.6" y2="274.0" stroke="#222" stroke-width="1.6"/>
<polygon points="381.0,322.4 399.0,323.3 397.4,314.9" fill="#1a1a1a"/>
<line x1="584.4" y1="482.6" x2="687.6" y2="485.8" stroke="#222" stroke-width="1.6"/>
<polygon points="564.4,482.0 584.2,487.4 584.5,477.8" fill="#1a1a1a"/>
<text x="648.0" y="149.4" font-size="33" class="t">SiOF</text>
<text transform="translate(639.5,281.9) scale(1,1.04)" font-size="32" class="t">CF</text>
<text transform="translate(706.8,486.6) scale(1,1.06)" font-size="32" class="t">LiF</text>
<text transform="translate(293.0,1217.1) scale(1,1.06)" font-size="28" text-anchor="middle" class="t">690</text>
<text transform="translate(620.2,1217.1) scale(1,1.06)" font-size="28" text-anchor="middle" class="t">685</text>
<text transform="translate(457.0,1271.8) scale(1,1.02)" font-size="34.4" text-anchor="middle" class="t">binding energy in eV</text>
<text transform="translate(110.0,105.5) scale(1,1.04)" font-size="27.4" class="t">1M LiPF<tspan font-size="16" dy="11">6</tspan><tspan dy="-11"> VC:EC:DEC</tspan></text>
<text transform="translate(109.0,149.4) scale(1,1.04)" font-size="27.4" class="t">[2:29.4:68.6]</text>
<text transform="translate(103.5,386.2) scale(1,1.04)" font-size="27.55" class="t">1M LiPF<tspan font-size="16" dy="11">6</tspan><tspan dy="-11"> FEC:EC:DEC [10:27:63]</tspan></text>
<text transform="translate(104.7,659.6) scale(1,1.04)" font-size="27.6" class="t">1M LiPF<tspan font-size="16" dy="11">6</tspan><tspan dy="-11"> EC:DEC [3:7]</tspan></text>
<text transform="translate(102.5,935.8) scale(1,1.04)" font-size="27.5" class="t">blanc wafer</text>
<line x1="96.6" y1="355.6" x2="816.7" y2="355.6" class="f"/>
<line x1="96.6" y1="630.8" x2="816.7" y2="630.8" class="f"/>
<line x1="96.6" y1="905.7" x2="816.7" y2="905.7" class="f"/>
<rect x="96.6" y="80.7" width="720.1" height="1100.2" fill="none" class="f"/>
</svg>
</body></html>
